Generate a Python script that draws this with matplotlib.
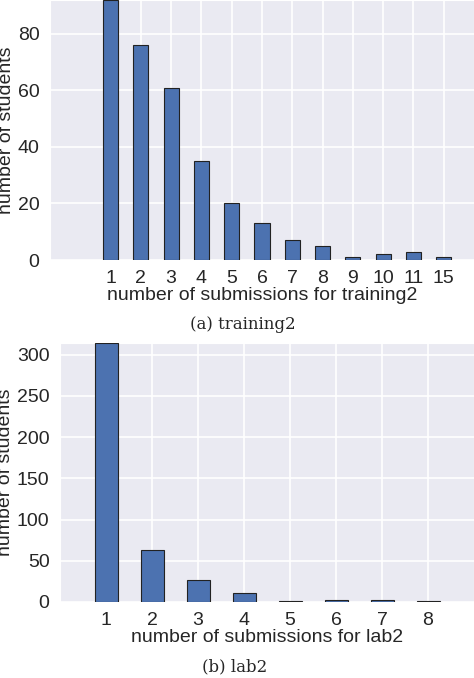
import numpy as np
import matplotlib; matplotlib.use("Agg")
import matplotlib.pyplot as plt
import seaborn as sns

sns.set_style("darkgrid")
plt.rcParams['font.family'] = ['Liberation Sans', 'DejaVu Sans']

train_labels = ["1", "2", "3", "4", "5", "6", "7", "8", "9", "10", "11", "15"]
train_counts = [92, 76, 61, 35, 20, 13, 7, 5, 1, 2, 3, 1]
lab_labels = ["1", "2", "3", "4", "5", "6", "7", "8"]
lab_counts = [314, 63, 27, 11, 1, 2, 2, 1]

fig = plt.figure(figsize=(4.74, 6.78), dpi=100)
W, H = 474, 678
ax1 = fig.add_axes([50/W, 1-260/H, 424/W, 260/H])
ax2 = fig.add_axes([60/W, 1-602/H, 414/W, 259/H])

col = "#4c72b0"
x = np.arange(len(train_counts))
ax1.bar(x, train_counts, 0.5, color=col, edgecolor="#222222", linewidth=0.8, zorder=3)
ax1.set_xticks(x); ax1.set_xticklabels(train_labels)
ax1.set_xlim(-2, 12); ax1.set_ylim(0, 92)
ax1.set_yticks([0, 20, 40, 60, 80])
ax1.set_xlabel("number of submissions for training2", fontsize=14, labelpad=0)
ax1.set_ylabel("number of students", fontsize=14, labelpad=2)

x2 = np.arange(len(lab_counts))
ax2.bar(x2, lab_counts, 0.5, color=col, edgecolor="#222222", linewidth=0.8, zorder=3)
ax2.set_xticks(x2); ax2.set_xticklabels(lab_labels)
ax2.set_xlim(-1, 8); ax2.set_ylim(0, 314)
ax2.set_yticks([0, 50, 100, 150, 200, 250, 300])
ax2.set_xlabel("number of submissions for lab2", fontsize=14, labelpad=0)
ax2.set_ylabel("number of students", fontsize=14, labelpad=2)

for ax in (ax1, ax2):
    ax.tick_params(labelsize=14, pad=4)
    ax.grid(True, color="white", linewidth=1.2)
    ax.set_axisbelow(True)

fig.text(243/W, 1-324/H, "(a) training2", ha="center", va="center", fontsize=12, family="DejaVu Serif")
fig.text(235/W, 1-667/H, "(b) lab2", ha="center", va="center", fontsize=12, family="DejaVu Serif")
fig.savefig("out.png", dpi=100)
